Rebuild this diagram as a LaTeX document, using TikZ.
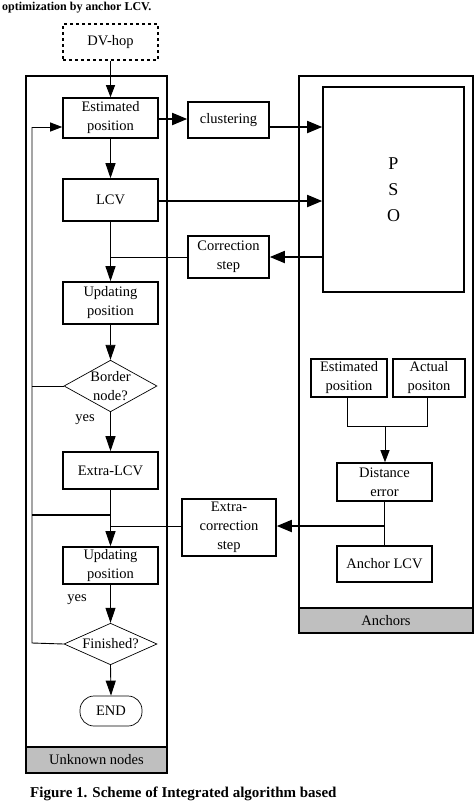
\documentclass[tikz,border=0pt]{standalone}
\usepackage{fontspec}
\setmainfont{Liberation Serif}
\usetikzlibrary{arrows.meta,shapes.geometric,calc}
\begin{document}
\begin{tikzpicture}[x=1pt,y=-1pt,
  font=\fontsize{14.5}{19}\selectfont,
  box/.style={draw,line width=1.6pt,minimum width=#1,inner sep=0pt,align=center},
  dia/.style={draw,line width=0.7pt,diamond,aspect=1.8,inner sep=0pt,align=center},
  thin/.style={line width=0.9pt},
  thk/.style={line width=1.8pt},
  arr/.style={-{Triangle[length=15pt,width=10pt]}},
  sarr/.style={-{Triangle[length=12pt,width=9pt]}},
  barr/.style={-{Triangle[length=15pt,width=12pt]}},
  band/.style={draw,line width=1.8pt,fill=black!25}
]
\useasboundingbox (0,0) rectangle (474,801);
\node[anchor=base west,font=\fontsize{12}{14}\selectfont\bfseries,inner sep=0pt] (toptext) at (2,10) {optimization by anchor LCV.};
\node[anchor=base west,font=\fontsize{15}{18}\selectfont\bfseries,inner sep=0pt] (caption) at (30,797) {Figure 1. Scheme of Integrated algorithm based};

% containers
\draw[line width=1.8pt] (26,76) rectangle (167,773);
\node[band,minimum width=141pt,minimum height=26pt,inner sep=0pt] (unk) at (96.5,760) {Unknown nodes};
\draw[line width=1.8pt] (299,76) rectangle (473,633);
\node[band,minimum width=174pt,minimum height=25pt,inner sep=0pt] (anch) at (386,620.5) {Anchors};

% left column
\node[box=95pt,dashed,minimum height=36pt] (dv) at (110.5,42) {DV-hop};
\node[box=95pt,minimum height=40pt] (ep) at (110.5,118) {Estimated\\position};
\node[box=95pt,minimum height=42pt] (lcv) at (110.5,200) {LCV};
\node[box=95pt,minimum height=42pt] (up1) at (110.5,303) {Updating\\position};
\node[dia,minimum width=93pt,minimum height=50pt] (border) at (110.5,386) {Border\\node?};
\node[box=95pt,minimum height=37pt] (xlcv) at (110.5,470.5) {Extra-LCV};
\node[box=95pt,minimum height=37pt] (up2) at (110.5,565.5) {Updating\\position};
\node[dia,minimum width=93pt,minimum height=36pt] (fin) at (110.5,644) {Finished?};
\node[draw,line width=0.7pt,rounded corners=14pt,minimum width=62pt,minimum height=30pt,inner sep=0pt] (end) at (111,711) {END};

% middle column
\node[box=81pt,minimum height=36pt] (clus) at (228.5,120) {clustering};
\node[box=81pt,minimum height=42pt] (corr) at (228.5,257) {Correction\\step};
\node[box=94pt,minimum height=57pt] (xcorr) at (229,527.5) {Extra-\\correction\\step};

% right column
\node[box=141pt,minimum height=205pt,font=\fontsize{18}{26}\selectfont] (pso) at (393.5,189.5) {P\\S\\O};
\node[box=76pt,minimum height=38pt] (ep2) at (349,378) {Estimated\\position};
\node[box=72pt,minimum height=38pt] (ap) at (429,378) {Actual\\positon};
\node[box=95pt,minimum height=38pt] (de) at (384.5,482) {Distance\\error};
\node[box=95pt,minimum height=36pt] (alcv) at (384.5,564) {Anchor LCV};

% labels
\node[inner sep=0pt] (yes1) at (85,420) {yes};
\node[inner sep=0pt] (yes2) at (77,600) {yes};

% coordinates
\coordinate (jc) at (110.5,257);
\coordinate (jx) at (110.5,515);
\coordinate (jxc) at (110.5,526);
\coordinate (lb) at (32,386);
\coordinate (lx) at (32,515);
\coordinate (lf) at (32,643);
\coordinate (lt) at (32,127);
\coordinate (m1) at (347,426);
\coordinate (m2) at (427,426);
\coordinate (mj) at (385,426);
\coordinate (dj) at (384.5,526);

% connectors
\draw[thin,sarr] (dv.south) -- (ep.north);
\draw[thk,barr] (ep.east|-0,119) -- (clus.west|-0,119);
\draw[thk,barr] (clus.east|-0,127) -- (pso.west|-0,127);
\draw[thin,arr] (ep.south) -- (lcv.north);
\draw[thk,barr] (lcv.east|-0,201) -- (pso.west|-0,201);
\draw[thin,arr] (lcv.south) -- (up1.north);
\draw[thk,barr] (pso.west|-jc) -- (corr.east|-jc);
\draw[thin] (corr.west|-jc) -- (jc);
\draw[thin,arr] (up1.south) -- (border.north);
\draw[thin,arr] (border.south) -- (xlcv.north);
\draw[thin] (border.west) -- (lb);
\draw[thin] (xlcv.south) -- (jx);
\draw[thk] (lx) -- (jx);
\draw[thin,arr] (jx) -- (up2.north);
\draw[thin] (xcorr.west|-jxc) -- (jxc);
\draw[thin,arr] (up2.south) -- (fin.north);
\draw[thin,arr] (fin.south) -- (end.north);
\draw[thin] (fin.west) -- (lf) -- (lt);
\draw[thin,sarr] (lt) -- (ep.west|-lt);
\draw[thin] (ep2.south-|m1) -- (m1) -- (m2) -- (ap.south-|m2);
\draw[thin,sarr] (mj) -- (mj|-de.north);
\draw[thk] (de.south) -- (alcv.north);
\draw[thk,barr] (dj) -- (xcorr.east|-dj);
\end{tikzpicture}
\end{document}
